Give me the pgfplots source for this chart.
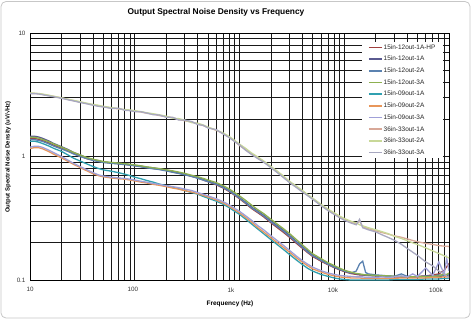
\documentclass[border=0pt]{standalone}
\usepackage{pgfplots}
\usepackage{pgfplotstable}
\pgfplotsset{compat=1.18}
\usepackage{fontspec}
\setmainfont{Liberation Sans}

\definecolor{cHP}{HTML}{A0403E}
\definecolor{cA}{HTML}{5A5A90}
\definecolor{cB}{HTML}{5B82B0}
\definecolor{cC}{HTML}{8DB050}
\definecolor{cD}{HTML}{30A0B0}
\definecolor{cE}{HTML}{E8965A}
\definecolor{cF}{HTML}{A0A0D8}
\definecolor{cG}{HTML}{D8A898}
\definecolor{cH}{HTML}{C8D898}
\definecolor{cI}{HTML}{A8A8C0}

\pgfplotstableread{
f a1 a2 a3
10 3.25 3.27 3.22
11 3.24 3.26 3.23
12 3.22 3.24 3.21
13 3.19 3.21 3.17
15 3.12 3.14 3.10
17 3.06 3.07 3.04
20 2.98 2.99 2.96
23 2.90 2.91 2.88
26 2.83 2.85 2.82
30 2.76 2.78 2.74
35 2.68 2.70 2.67
40 2.62 2.64 2.60
45 2.57 2.60 2.55
50 2.53 2.55 2.52
60 2.47 2.49 2.45
70 2.43 2.44 2.46
80 2.39 2.40 2.37
90 2.36 2.38 2.35
100 2.33 2.35 2.31
115 2.29 2.31 2.30
130 2.24 2.26 2.25
150 2.20 2.22 2.18
170 2.15 2.18 2.17
200 2.10 2.12 2.08
230 2.06 2.04 2.08
260 2.00 2.03 1.98
300 1.95 1.97 1.97
350 1.90 1.88 1.92
400 1.84 1.86 1.81
450 1.78 1.80 1.79
500 1.72 1.73 1.70
600 1.63 1.64 1.65
700 1.53 1.55 1.52
800 1.43 1.45 1.42
900 1.33 1.35 1.32
1000 1.23 1.26 1.24
1150 1.13 1.16 1.12
1300 1.05 1.07 1.04
1500 0.97 0.99 0.96
1700 0.91 0.92 0.90
2000 0.82 0.83 0.81
2300 0.75 0.76 0.74
2600 0.69 0.70 0.68
3000 0.625 0.63 0.615
3500 0.57 0.575 0.56
4000 0.52 0.53 0.515
4500 0.485 0.49 0.48
5000 0.455 0.46 0.45
6000 0.405 0.41 0.40
7000 0.37 0.375 0.365
8000 0.345 0.35 0.34
9000 0.325 0.33 0.32
10000 0.31 0.315 0.305
11500 0.295 0.30 0.29
13000 0.285 0.29 0.28
14000 0.30 0.28 0.31
15000 0.27 0.275 0.265
17000 0.26 0.265 0.255
20000 0.25 0.255 0.245
23000 0.242 0.246 0.232
26000 0.236 0.238 0.222
30000 0.228 0.226 0.21
35000 0.222 0.217 0.195
40000 0.215 0.208 0.18
45000 0.209 0.200 0.168
50000 0.204 0.194 0.158
60000 0.198 0.182 0.14
70000 0.194 0.172 0.13
80000 0.19 0.164 0.118
90000 0.188 0.157 0.112
100000 0.187 0.151 0.104
}\groupA

\pgfplotstableread{
f hp b1 b2 b3
10 1.40 1.46 1.37 1.43
11 1.40 1.46 1.37 1.43
12 1.38 1.44 1.35 1.41
13 1.35 1.41 1.33 1.38
15 1.29 1.34 1.27 1.32
17 1.23 1.27 1.21 1.26
20 1.17 1.20 1.15 1.19
23 1.11 1.14 1.10 1.13
26 1.06 1.08 1.05 1.08
30 1.01 1.03 1.00 1.03
35 0.96 0.975 0.96 0.98
40 0.935 0.945 0.93 0.95
45 0.915 0.925 0.91 0.93
50 0.90 0.905 0.895 0.91
60 0.885 0.89 0.88 0.895
70 0.875 0.88 0.87 0.885
80 0.865 0.87 0.86 0.875
90 0.855 0.86 0.85 0.865
100 0.845 0.85 0.84 0.855
115 0.83 0.835 0.825 0.84
130 0.815 0.82 0.81 0.825
150 0.80 0.81 0.795 0.81
170 0.79 0.795 0.785 0.80
200 0.77 0.775 0.765 0.78
230 0.75 0.76 0.745 0.765
260 0.735 0.74 0.73 0.75
300 0.715 0.72 0.71 0.73
350 0.69 0.695 0.69 0.705
400 0.67 0.675 0.665 0.685
450 0.645 0.655 0.645 0.665
500 0.625 0.635 0.625 0.645
600 0.59 0.60 0.595 0.615
700 0.555 0.565 0.56 0.58
800 0.52 0.53 0.525 0.545
900 0.485 0.495 0.49 0.51
1000 0.455 0.465 0.46 0.48
1150 0.415 0.425 0.42 0.44
1300 0.38 0.39 0.385 0.405
1500 0.35 0.36 0.355 0.37
1700 0.325 0.335 0.33 0.345
2000 0.29 0.30 0.295 0.31
2300 0.265 0.275 0.27 0.283
2600 0.245 0.255 0.25 0.262
3000 0.222 0.23 0.226 0.238
3500 0.198 0.205 0.202 0.212
4000 0.18 0.186 0.183 0.192
4500 0.166 0.171 0.168 0.176
5000 0.155 0.159 0.157 0.163
6000 0.142 0.146 0.144 0.149
7000 0.133 0.136 0.134 0.138
8000 0.126 0.129 0.127 0.131
9000 0.121 0.123 0.122 0.125
10000 0.117 0.119 0.118 0.120
11500 0.113 0.115 0.114 0.116
13000 0.111 0.112 0.118 0.113
14000 0.110 0.111 0.135 0.112
15000 0.110 0.110 0.142 0.111
16000 0.109 0.110 0.115 0.110
17000 0.109 0.109 0.112 0.110
20000 0.108 0.108 0.110 0.109
23000 0.107 0.108 0.109 0.108
26000 0.107 0.107 0.108 0.108
30000 0.106 0.107 0.107 0.107
35000 0.106 0.106 0.112 0.107
40000 0.106 0.106 0.107 0.106
45000 0.106 0.105 0.106 0.106
50000 0.107 0.106 0.106 0.107
60000 0.108 0.107 0.108 0.106
70000 0.110 0.106 0.107 0.107
80000 0.112 0.107 0.110 0.108
90000 0.120 0.108 0.109 0.112
95000 0.128 0.109 0.111 0.110
100000 0.136 0.110 0.112 0.114
}\groupU

\pgfplotstableread{
f c1 c2 c3
10 1.33 1.16 1.19
11 1.33 1.18 1.21
12 1.31 1.18 1.21
13 1.28 1.16 1.19
15 1.22 1.10 1.13
17 1.16 1.04 1.07
20 1.10 0.975 1.00
23 1.03 0.915 0.935
26 0.97 0.865 0.88
30 0.92 0.815 0.83
35 0.87 0.765 0.78
40 0.83 0.725 0.74
45 0.80 0.70 0.71
50 0.78 0.685 0.695
60 0.76 0.67 0.68
70 0.74 0.66 0.67
80 0.72 0.655 0.665
90 0.70 0.645 0.655
100 0.68 0.635 0.645
115 0.66 0.62 0.63
130 0.64 0.61 0.62
150 0.62 0.595 0.605
170 0.60 0.585 0.595
200 0.58 0.57 0.58
230 0.565 0.555 0.57
260 0.55 0.545 0.56
300 0.53 0.53 0.545
350 0.51 0.515 0.53
400 0.495 0.50 0.51
450 0.475 0.485 0.495
500 0.46 0.47 0.48
600 0.435 0.445 0.455
700 0.41 0.42 0.43
800 0.385 0.395 0.405
900 0.36 0.37 0.38
1000 0.34 0.35 0.36
1150 0.31 0.32 0.33
1300 0.285 0.295 0.305
1500 0.258 0.265 0.275
1700 0.237 0.245 0.255
2000 0.212 0.22 0.228
2300 0.193 0.20 0.208
2600 0.178 0.185 0.192
3000 0.161 0.168 0.174
3500 0.145 0.151 0.156
4000 0.133 0.139 0.143
4500 0.124 0.13 0.134
5000 0.118 0.123 0.127
6000 0.111 0.116 0.119
7000 0.107 0.111 0.114
8000 0.104 0.108 0.111
9000 0.102 0.106 0.109
10000 0.101 0.105 0.108
11500 0.100 0.104 0.107
13000 0.100 0.104 0.106
14000 0.100 0.104 0.106
15000 0.100 0.103 0.106
16000 0.100 0.103 0.105
17000 0.100 0.103 0.105
20000 0.100 0.103 0.105
23000 0.100 0.103 0.106
26000 0.100 0.103 0.105
30000 0.101 0.103 0.106
35000 0.101 0.104 0.108
40000 0.101 0.104 0.106
45000 0.101 0.104 0.112
50000 0.101 0.104 0.107
60000 0.102 0.104 0.125
70000 0.102 0.105 0.109
80000 0.102 0.105 0.140
90000 0.103 0.106 0.112
95000 0.103 0.106 0.150
100000 0.103 0.106 0.118
}\groupL

\begin{document}
\begin{tikzpicture}[x=1bp,y=1bp]
\draw[black!22, line width=0.8bp, rounded corners=5bp] (1,3) rectangle (470,319.5);
\begin{axis}[
  at={(30bp,41bp)}, anchor=south west,
  scale only axis, width=419bp, height=247bp,
  xmode=log, ymode=log,
  xmin=10, xmax=100000, ymin=0.1, ymax=10,
  axis line style={black, line width=0.8bp},
  xtick={10,96,830,7800,75000},
  xticklabels={10,100,1k,10k,100k},
  ytick={0.1,1,10},
  yticklabels={0.1,1,10},
  minor xtick={20,30,40,50,60,70,80,90,100,200,300,400,500,600,700,800,900,1000,2000,3000,4000,5000,6000,7000,8000,9000,10000,20000,30000,40000,50000,60000,70000,80000,90000},
  minor ytick={0.2,0.3,0.4,0.5,0.6,0.7,0.8,0.9,1,2,3,4,5,6,7,8,9},
  xmajorgrids=false, xminorgrids=true,
  ymajorgrids=false, yminorgrids=true,
  minor grid style={black!90, line width=0.8bp},
  major tick length=0pt, minor tick length=0pt,
  tick label style={font=\fontsize{6.3}{7}\selectfont, text=black!80},
  xticklabel style={yshift=-4bp},
  yticklabel style={xshift=-1bp},
  every axis plot/.append style={line width=1.3bp, no markers},
  legend image code/.code={\draw[#1, line width=1.6bp] (0bp,0bp) -- (13bp,0bp);},
  legend style={at={(0.792,0.966)}, anchor=north west, draw=none, fill=white,
    font=\fontsize{6.5}{7}\selectfont, text=black!85, inner xsep=6bp, inner ysep=1.5bp,
    row sep=3.2bp, nodes={inner sep=1bp, text height=5bp, text depth=1.5bp}},
  legend cell align=left,
]
\addplot[cHP] table[x=f, y=hp] {\groupU};
\addlegendentry{15in-12out-1A-HP}
\addplot[cA] table[x=f, y=b1] {\groupU};
\addlegendentry{15in-12out-1A}
\addplot[cB] table[x=f, y=b2] {\groupU};
\addlegendentry{15in-12out-2A}
\addplot[cC] table[x=f, y=b3] {\groupU};
\addlegendentry{15in-12out-3A}
\addplot[cD] table[x=f, y=c1] {\groupL};
\addlegendentry{15in-09out-1A}
\addplot[cE] table[x=f, y=c2] {\groupL};
\addlegendentry{15in-09out-2A}
\addplot[cF] table[x=f, y=c3] {\groupL};
\addlegendentry{15in-09out-3A}
\addplot[cG] table[x=f, y=a1] {\groupA};
\addlegendentry{36in-33out-1A}
\addplot[cH] table[x=f, y=a2] {\groupA};
\addlegendentry{36in-33out-2A}
\addplot[cI] table[x=f, y=a3] {\groupA};
\addlegendentry{36in-33out-3A}
\end{axis}
\node[font=\fontsize{8.4}{10}\selectfont\bfseries] at (216,308.7) {Output Spectral Noise Density vs Frequency};
\node[font=\fontsize{6.5}{8}\selectfont\bfseries] at (230,17) {Frequency (Hz)};
\node[font=\fontsize{6.0}{7}\selectfont\bfseries, rotate=90] at (8,164) {Output Spectral Noise Density (uV/√Hz)};
\pgfresetboundingbox
\useasboundingbox (0,0) rectangle (474,321);
\end{tikzpicture}
\end{document}
